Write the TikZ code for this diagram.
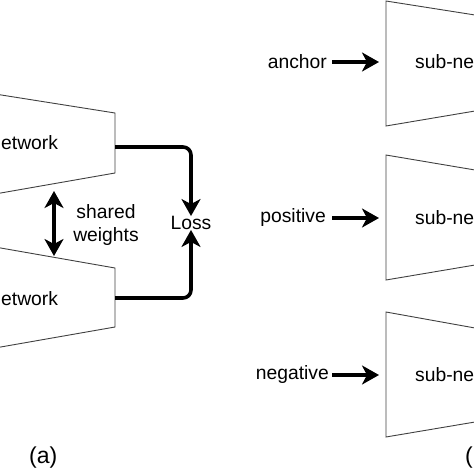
\documentclass[tikz,border=0pt]{standalone}
\usepackage{fontspec}
\setmainfont{Liberation Sans}
\usetikzlibrary{arrows.meta}
\begin{document}
\begin{tikzpicture}[x=1pt,y=-1pt,
  lbl/.style={font=\fontsize{19.3}{22}\selectfont, inner sep=0pt},
  sublabel/.style={font=\fontsize{23}{26}\selectfont, inner sep=0pt},
  trap/.style={draw=black!75, line width=0.9pt},
  tip/.tip={Stealth[length=17pt,width=19pt,inset=5pt]},
  conn/.style={line width=3.6pt, -tip, rounded corners=8pt},
  dconn/.style={line width=3.6pt, tip-tip}]
\useasboundingbox (0,0) rectangle (474,474);
\clip (0,0) rectangle (474,474);
% left (a)
\draw[trap] (-5,94) -- (115,113) -- (115,173) -- (-5,194);
\draw[trap] (-5,247) -- (115,268) -- (115,327) -- (-5,348);
\node[lbl, anchor=west] (n1) at (1,143) {etwork};
\node[lbl, anchor=west] (n2) at (1,299) {etwork};
\coordinate (o1) at (115,147);
\coordinate (o2) at (115,298);
\node[lbl] (loss) at (191,223) {Loss};
\draw[conn] (o1) -- (191,147) -- (loss.north);
\draw[conn] (o2) -- (191,298) -- (loss.south);
\node[lbl, align=center] (sw) at (106,225) {shared\\[1pt]weights};
\coordinate (sa) at (54,191);
\coordinate (sb) at (54,256);
\draw[dconn] (sa) -- (sb);
\node[sublabel, anchor=west] (la) at (29,458) {(a)};
% right (b)
\draw[trap] (475,15) -- (386,1) -- (386,126) -- (475,111);
\draw[trap] (475,170) -- (386,155) -- (386,280) -- (475,265);
\draw[trap] (475,328) -- (386,312) -- (386,437) -- (475,422);
\node[lbl, anchor=west] (s1) at (415,62) {sub-ne};
\node[lbl, anchor=west] (s2) at (415,218) {sub-ne};
\node[lbl, anchor=west] (s3) at (415,375) {sub-ne};
\coordinate (i1) at (379,62);
\coordinate (i2) at (379,218);
\coordinate (i3) at (379,375);
\node[lbl, anchor=east] (anc) at (327,62) {anchor};
\node[lbl, anchor=east] (pos) at (326,218) {positive};
\node[lbl, anchor=east] (neg) at (329,375) {negative};
\draw[conn] (anc.east) ++(5,0) coordinate (ae) -- (i1);
\draw[conn] (pos.east) ++(6,0) coordinate (pe) -- (i2);
\draw[conn] (neg.east) ++(3,0) coordinate (ne) -- (i3);
\node[sublabel, anchor=west] (lb) at (465,458) {(};
\end{tikzpicture}
\end{document}
